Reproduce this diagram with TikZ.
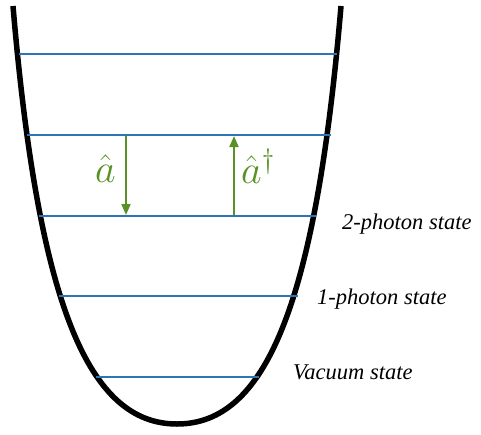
\RequirePackage{fix-cm}
\documentclass[tikz,border=0pt]{standalone}
\usepackage{fontspec}
\setmainfont{Liberation Serif}
\usepackage{tikz}
\usetikzlibrary{
  arrows.meta
}
\definecolor{levelblue}{RGB}{46,117,182}
\definecolor{opgreen}{RGB}{88,146,38}

\begin{document}
\begin{tikzpicture}[x=1pt, y=-1pt,
      well/.style={line width=5.5pt, black},
      level/.style={line width=2.6pt, levelblue},
      arrow/.style={-{Triangle[length=11pt, width=9pt]}, line width=2pt, opgreen},
      oplabel/.style={anchor=base west, text=opgreen, inner sep=0pt, font=\fontsize{40}{42}\selectfont},
      statelabel/.style={anchor=base west, inner sep=0pt, font=\fontsize{22.5}{26}\selectfont\itshape}
    ]
      \useasboundingbox (0,0) rectangle (481,434);

      % Potential well
      \draw[well] (13,6) .. controls (38.5,307) and (89,424) .. (177,424)
        .. controls (265,424) and (315.5,307) .. (341,6);

      % Energy levels
      \draw[level] (19,54) -- (337,54);
      \draw[level] (27,135) -- (331,135);
      \draw[level] (39,216) -- (316,216);
      \draw[level] (59,296) -- (298,296);
      \draw[level] (96,377) -- (259,377);

      % Ladder operators
      \coordinate (downtop) at (126,136);
      \coordinate (downbot) at (126,215);
      \coordinate (upbot) at (234,215);
      \coordinate (uptop) at (234,136);
      \draw[arrow] (downtop) -- (downbot);
      \draw[arrow] (upbot) -- (uptop);
      \node[oplabel] (annih) at (95,182) {$\hat{a}$};
      \node[oplabel] (creat) at (241,183) {$\hat{a}^{\dagger}$};

      % Labels
      \node[statelabel] (two) at (342,229) {2-photon state};
      \node[statelabel] (one) at (317,304) {1-photon state};
      \node[statelabel] (vac) at (293,379) {Vacuum state};
    \end{tikzpicture}
\end{document}
